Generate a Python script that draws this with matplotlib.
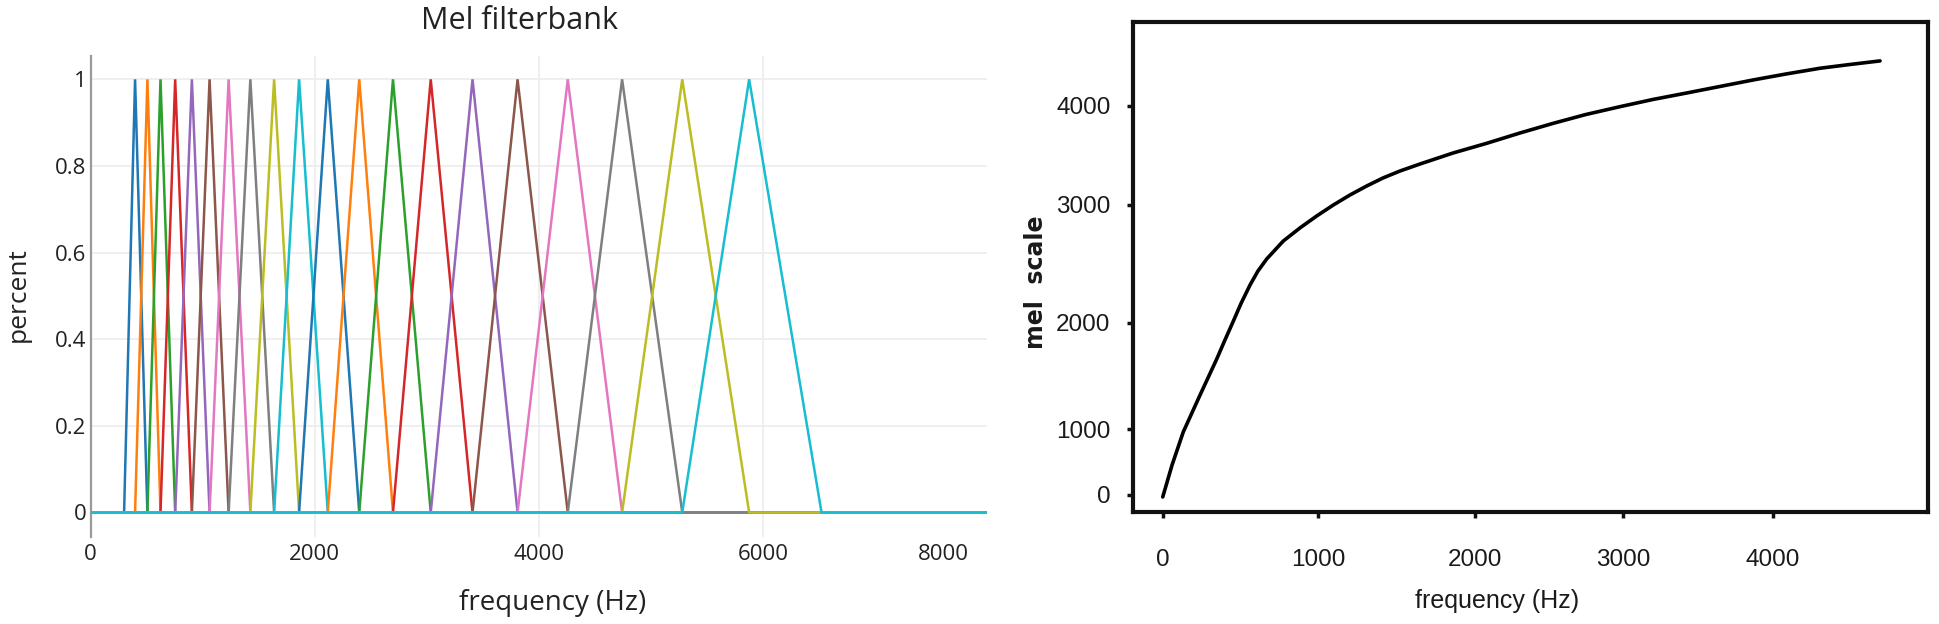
import numpy as np
import matplotlib
matplotlib.use("Agg")
import matplotlib.pyplot as plt
from matplotlib.transforms import ScaledTranslation

# ---------------- data ----------------
# Left: mel filterbank triangle edge frequencies (Hz); filter i spans edges[i]..edges[i+2], peak at edges[i+1]
filter_edges_hz = [298, 396, 506, 623, 754, 903, 1061, 1231, 1425, 1637, 1860,
                   2116, 2397, 2698, 3035, 3408, 3810, 4258, 4743, 5280, 5877, 6523]
freq_max_hz = 8000
left_xticks = [0, 2000, 4000, 6000, 8000]
left_yticks = [0, 0.2, 0.4, 0.6, 0.8, 1]
left_ytick_labels = ["0", "0.2", "0.4", "0.6", "0.8", "1"]

# Right: mel scale curve
curve_freq_hz = [0, 60, 132, 240, 347, 400, 454, 503, 561, 612, 668, 775, 882, 990,
                 1096, 1202, 1309, 1413, 1521, 1649, 1860, 2079, 2303, 2528, 2748,
                 2978, 3199, 3424, 3647, 3870, 4089, 4317, 4517, 4718]
curve_mel = [-35, 454, 959, 1322, 1659, 1838, 2014, 2163, 2320, 2439, 2541, 2694, 2805, 2907,
             3000, 3101, 3192, 3273, 3343, 3414, 3525, 3623, 3727, 3825, 3914,
             3993, 4066, 4131, 4197, 4263, 4323, 4381, 4419, 4455]
right_xticks = [0, 1000, 2000, 3000, 4000]
right_yticks = [0, 1000, 2000, 3000, 4000]

# The scanned right-hand chart has unevenly spaced tick marks; piecewise-linear scale knots
x_scale_knots = ([0, 1000, 2000, 3000, 4000], [0, 155.6, 312.3, 460.6, 610.0])
y_scale_knots = ([0, 1000, 2000, 3000, 4000], [0, 65.4, 172.0, 289.7, 388.7])

colors = ["#1f77b4", "#ff7f0e", "#2ca02c", "#d62728", "#9467bd",
          "#8c564b", "#e377c2", "#7f7f7f", "#bcbd22", "#17becf"]


def piecewise(vals, pos):
    vals = np.asarray(vals, float)
    pos = np.asarray(pos, float)

    def make(a, b):
        s0 = (b[1] - b[0]) / (a[1] - a[0])
        s1 = (b[-1] - b[-2]) / (a[-1] - a[-2])

        def f(v):
            v = np.asarray(v, float)
            out = np.interp(v, a, b)
            out = np.where(v < a[0], b[0] + (v - a[0]) * s0, out)
            out = np.where(v > a[-1], b[-1] + (v - a[-1]) * s1, out)
            return out
        return f
    return make(vals, pos), make(pos, vals)


W, H = 1940, 624
fig = plt.figure(figsize=(W / 100, H / 100), dpi=100)
fig.patch.set_facecolor("white")

OPEN = ["Open Sans", "DejaVu Sans"]
NARROW = ["Liberation Sans Narrow", "Liberation Sans", "DejaVu Sans"]

# ---------------- left chart ----------------
axL = fig.add_axes([90.7 / W, 1 - 537 / H, (987 - 90.7) / W, (537 - 56) / H])
axL.set_xlim(0, freq_max_hz)
axL.set_ylim(-0.0566, 1.0538)
for i in range(len(filter_edges_hz) - 2):
    lo, c, hi = filter_edges_hz[i], filter_edges_hz[i + 1], filter_edges_hz[i + 2]
    axL.plot([0, lo, c, hi, freq_max_hz], [0, 0, 1, 0, 0],
             color=colors[i % 10], lw=1.8, solid_joinstyle="miter", zorder=3)

for s in ["top", "right", "bottom"]:
    axL.spines[s].set_visible(False)
axL.spines["left"].set_color("#9a9a9a")
axL.spines["left"].set_linewidth(1.6)
axL.set_xticks(left_xticks)
axL.set_xticklabels([str(v) for v in left_xticks])
axL.set_yticks(left_yticks)
axL.set_yticklabels(left_ytick_labels)
axL.tick_params(length=0, labelsize=16, colors="#222222", pad=3)
axL.tick_params(axis="x", pad=5)
for lab in axL.get_xticklabels() + axL.get_yticklabels():
    lab.set_family(OPEN)
axL.get_xticklabels()[-1].set_transform(axL.get_xticklabels()[-1].get_transform()
                                        + ScaledTranslation(-0.44, 0, fig.dpi_scale_trans))
for v in [0.2, 0.4, 0.6, 0.8, 1.0]:
    axL.axhline(v, color="#ececec", lw=1.2, zorder=1)
for v in [2000, 4000, 6000]:
    axL.axvline(v, color="#ececec", lw=1.2, zorder=1)

fig.text(520 / W, 1 - 21 / H, "Mel filterbank", ha="center", va="center",
         fontsize=22, family=OPEN, color="#222222")
fig.text(18 / W, 1 - 295 / H, "percent", ha="center", va="center", rotation=90,
         fontsize=19, family=OPEN, color="#222222")
fig.text(553 / W, 1 - 603 / H, "frequency (Hz)", ha="center", va="center",
         fontsize=20, family=OPEN, color="#222222")

# ---------------- right chart ----------------
axR = fig.add_axes([1132.7 / W, 1 - 511.5 / H, (1928.3 - 1132.7) / W, (511.5 - 22) / H])
axR.set_xscale("function", functions=piecewise(*x_scale_knots))
axR.set_yscale("function", functions=piecewise(*y_scale_knots))
axR.set_xlim(-193, 5041)
axR.set_ylim(-257, 4848)
axR.plot(curve_freq_hz, curve_mel, color="black", lw=2.6, solid_capstyle="round",
         solid_joinstyle="round")
for s in axR.spines.values():
    s.set_linewidth(3.0)
    s.set_color("#111111")
axR.set_xticks(right_xticks)
axR.set_xticklabels([str(v) for v in right_xticks])
axR.set_yticks(right_yticks)
axR.set_yticklabels([str(v) for v in right_yticks])
axR.minorticks_off()
axR.tick_params(direction="out", length=4, width=2.5, color="#111111",
                labelsize=17.5, labelcolor="#1a1a1a")
axR.tick_params(axis="y", pad=12)
axR.tick_params(axis="x", pad=23)
for lab in axR.get_xticklabels() + axR.get_yticklabels():
    lab.set_family(NARROW)

fig.text(1036 / W, 1 - 282 / H, "mel  scale", ha="center", va="center", rotation=90,
         fontsize=17, fontweight="bold", family="DejaVu Sans", color="#1a1a1a")
fig.text(1497 / W, 1 - 601 / H, "frequency (Hz)", ha="center", va="center",
         fontsize=18, family=NARROW, color="#1a1a1a")

fig.savefig("out.png", dpi=100, facecolor="white")
